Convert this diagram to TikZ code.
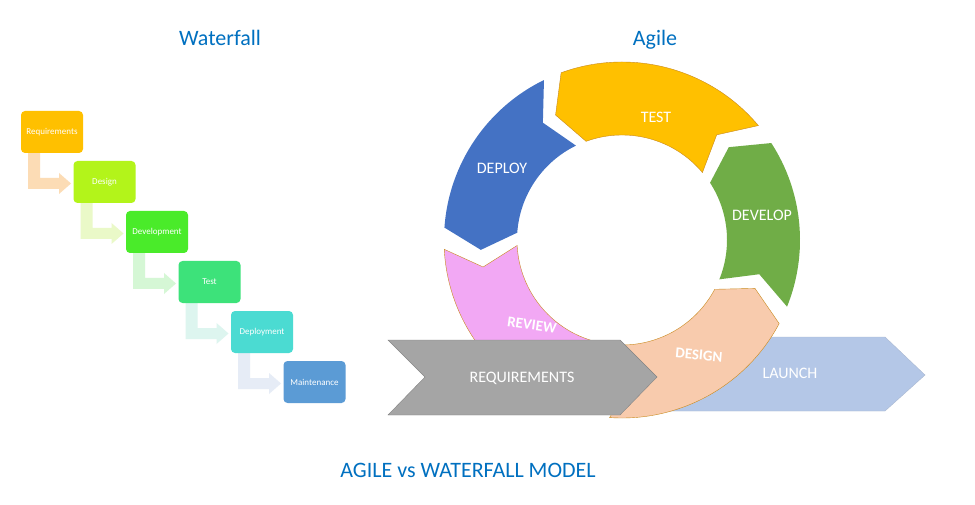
\documentclass[tikz,border=0pt]{standalone}
\usepackage{fontspec}
\setmainfont{Carlito}
\begin{document}
\begin{tikzpicture}[x=1pt,y=-1pt,
  title/.style={text=titleblue,font=\fontsize{22}{25}\selectfont},
  wbox/.style={rounded corners=4pt,minimum width=62pt,minimum height=42pt,inner sep=0pt,text=white,font=\fontsize{9}{10}\selectfont},
  seglab/.style={text=white,font=\fontsize{16}{18}\selectfont},
  chev/.style={text=white,font=\fontsize{16}{18}\selectfont}]
\definecolor{titleblue}{HTML}{0070C0}
\definecolor{w1}{HTML}{FFC000}\definecolor{w2}{HTML}{B3F41A}\definecolor{w3}{HTML}{4AEB2A}
\definecolor{w4}{HTML}{3DE27A}\definecolor{w5}{HTML}{4BDBD2}\definecolor{w6}{HTML}{5B9BD5}
\definecolor{a1}{HTML}{FCDCB5}\definecolor{a2}{HTML}{EAF9C8}\definecolor{a3}{HTML}{D5F7D5}
\definecolor{a4}{HTML}{DDF5EF}\definecolor{a5}{HTML}{E6ECF6}
\definecolor{cdeploy}{HTML}{4472C4}\definecolor{ctest}{HTML}{FFC000}\definecolor{cdevelop}{HTML}{70AD47}
\definecolor{cdesign}{HTML}{F8CBAD}\definecolor{creview}{HTML}{F2A8F4}\definecolor{creq}{HTML}{A5A5A5}
\definecolor{claunch}{HTML}{B4C7E7}\definecolor{edgeor}{HTML}{C98A1E}
\useasboundingbox (0,0) rectangle (975,505);
\fill[white] (0,0) rectangle (975,505);
\node[title] (tw) at (220,38) {Waterfall};
\node[title] (ta) at (655,40) {Agile};
\node[title] (tb) at (468,470) {AGILE vs WATERFALL MODEL};
% waterfall bent arrows
\foreach \i/\c in {0/a1,1/a2,2/a3,3/a4,4/a5}{
  \fill[\c,shift={({52.5*\i},{50*\i})}] (28,153) -- (40,153) -- (40,178) -- (59,178) -- (59,173) -- (71,183.5) -- (59,194) -- (59,189) -- (28,189) -- cycle;
}
\foreach \i/\c/\t/\n in {0/w1/Requirements/b1,1/w2/Design/b2,2/w3/Development/b3,3/w4/Test/b4,4/w5/Deployment/b5,5/w6/Maintenance/b6}{
  \node[wbox,fill=\c] (\n) at ({52+52.5*\i},{132+50*\i}) {\t};
}
% launch
\draw[claunch!80!gray,fill=claunch] (670,337) -- (885,337) -- (925,375) -- (885,411) -- (670,411) -- cycle;
% ring
\begin{scope}[shift={(622,240)},yscale=-1]
\newcommand\ringseg[3]{%
  \path[#3] (#1:178) arc[start angle=#1,end angle=#2,radius=178] -- ({#2+8}:141.5) -- (#2:105)
    arc[start angle=#2,end angle=#1,radius=105] -- ({#1+8}:141.5) -- cycle;}
\ringseg{-22}{33}{fill=cdevelop}
\ringseg{40}{110}{fill=ctest,draw=edgeor,thin}
\ringseg{116}{176}{fill=cdeploy}
\ringseg{183}{258}{fill=creview,draw=edgeor,thin}
\ringseg{266}{332}{fill=cdesign,draw=edgeor,thin}
\end{scope}
% requirements
\draw[creq!80!black,fill=creq] (388,340) -- (620,340) -- (657,377) -- (620,415) -- (388,415) -- (425,377) -- cycle;
\node[seglab] (ldeploy) at (502,168) {DEPLOY};
\node[seglab] (ltest) at (656,117) {TEST};
\node[seglab] (ldevelop) at (762,215) {DEVELOP};
\node[seglab,font=\fontsize{15}{17}\selectfont\bfseries,rotate=-8] (lreview) at (532,325) {REVIEW};
\node[seglab,font=\fontsize{15}{17}\selectfont\bfseries,rotate=-5] (ldesign) at (699,355) {DESIGN};
\node[chev] (lreq) at (522,378) {REQUIREMENTS};
\node[chev] (llaunch) at (790,373) {LAUNCH};
\end{tikzpicture}
\end{document}
